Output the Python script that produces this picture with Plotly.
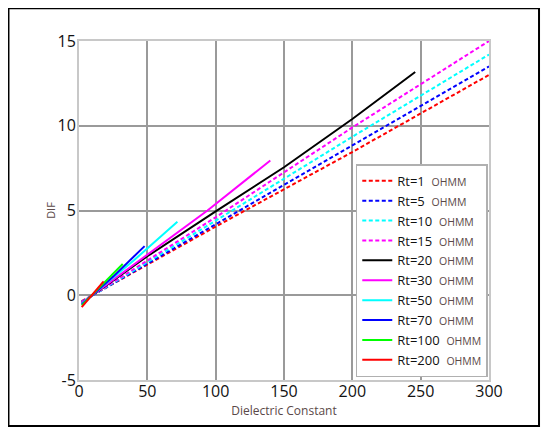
import plotly.graph_objects as go

# ---- data ----
labels = ["Rt=1", "Rt=5", "Rt=10", "Rt=15", "Rt=20", "Rt=30", "Rt=50", "Rt=70", "Rt=100", "Rt=200"]
unit = "OHMM"

x_rt1 = [2, 100, 200, 300]
y_rt1 = [-0.35, 4.05, 8.45, 13.0]
x_rt5 = [2, 100, 200, 300]
y_rt5 = [-0.37, 4.2, 8.85, 13.5]
x_rt10 = [2, 100, 200, 300]
y_rt10 = [-0.4, 4.4, 9.35, 14.2]
x_rt15 = [2, 100, 200, 300]
y_rt15 = [-0.4, 4.6, 9.9, 15.0]
x_rt20 = [2, 50, 100, 150, 200, 246]
y_rt20 = [-0.45, 2.3, 4.95, 7.55, 10.4, 13.17]
x_rt30 = [2, 50, 94, 140]
y_rt30 = [-0.45, 2.4, 5.0, 7.95]
x_rt50 = [2, 40, 72]
y_rt50 = [-0.5, 2.05, 4.33]
x_rt70 = [2, 25, 48]
y_rt70 = [-0.55, 1.1, 2.9]
x_rt100 = [2, 32]
y_rt100 = [-0.6, 1.84]
x_rt200 = [2, 18]
y_rt200 = [-0.7, 0.82]

xs = [x_rt1, x_rt5, x_rt10, x_rt15, x_rt20, x_rt30, x_rt50, x_rt70, x_rt100, x_rt200]
ys = [y_rt1, y_rt5, y_rt10, y_rt15, y_rt20, y_rt30, y_rt50, y_rt70, y_rt100, y_rt200]

x_ticks = [0, 50, 100, 150, 200, 250, 300]
x_tick_text = ["0", "50", "100", "150", "200", "250", "300"]
y_ticks = [-5, 0, 5, 10, 15]
y_tick_text = ["-5", "0", "5", "10", "15"]

# ---- styles ----
colors = ["#ff0000", "#0000ff", "#00ffff", "#ff00ff", "#000000",
          "#ff00ff", "#00ffff", "#0000ff", "#00ff00", "#ff0000"]
dashes = ["4px,2.5px"] * 4 + ["solid"] * 6

fig = go.Figure()
for lab, x, y, c, d in zip(labels, xs, ys, colors, dashes):
    name = (lab + "\u00a0\u00a0<span style='font-size:10.5px;color:#5a4848'>"
            + unit + "</span>")
    fig.add_trace(go.Scatter(x=x, y=y, mode="lines", name=name,
                             line=dict(color=c, width=2, dash=d)))

axis_common = dict(showgrid=True, gridcolor="#9a9a9a", gridwidth=1.5,
                   zeroline=True, zerolinecolor="#9a9a9a", zerolinewidth=1.5,
                   showline=True, linecolor="#c8c8c8", linewidth=2, mirror=True,
                   ticks="", tickfont=dict(size=16, color="#111111",
                                           family="Open Sans"))

fig.update_layout(
    width=534, height=421,
    margin=dict(l=71.3, r=52.7, t=32.7, b=49),
    paper_bgcolor="white", plot_bgcolor="white",
    font=dict(family="Open Sans"),
    xaxis=dict(range=[0, 300], tickvals=x_ticks, ticktext=x_tick_text,
               ticklabelstandoff=-4,
               title=dict(text="Dielectric Constant",
                          font=dict(size=12, color="#5a4848"), standoff=0),
               **axis_common),
    yaxis=dict(range=[-5, 15], tickvals=y_ticks, ticktext=y_tick_text,
               ticklabelstandoff=-2,
               title=dict(text="DIF", font=dict(size=11, color="#5a4848"),
                          standoff=0),
               **axis_common),
    legend=dict(x=0.997, y=0.008, xanchor="right", yanchor="bottom",
                bgcolor="white", bordercolor="#b0b0b0", borderwidth=1.5,
                font=dict(size=13, color="#111111", family="Open Sans"),
                tracegroupgap=0, itemwidth=30),
    showlegend=True,
    shapes=[dict(type="rect", xref="paper", yref="paper",
                 x0=-0.172, x1=1.122, y0=-0.1357, y1=1.0965,
                 line=dict(color="black", width=2), fillcolor="rgba(0,0,0,0)")],
)

fig.write_html("out.html")
